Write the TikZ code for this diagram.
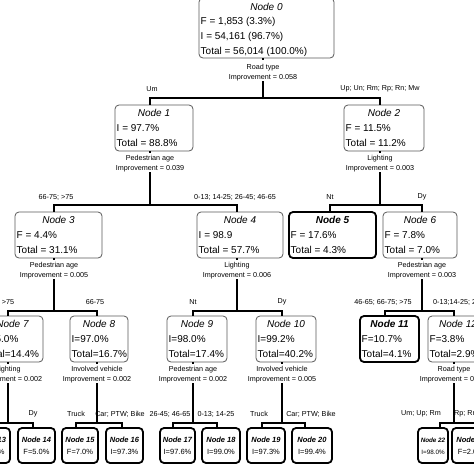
\documentclass[tikz,border=0pt]{standalone}
\usepackage{fontspec}
\setmainfont{Liberation Sans}
\tikzset{
  nbox/.style={draw=black!65, line width=0.8pt, rounded corners=4pt, anchor=north west, minimum height=46pt, inner sep=0pt, outer sep=0pt},
  tbox/.style={nbox, draw=black, line width=1.8pt},
  bbox/.style={tbox, minimum height=35pt},
  txt/.style={anchor=west, inner sep=0pt, font=\fontsize{10}{12}\selectfont},
  ttlnbox/.style={inner sep=0pt, font=\fontsize{10}{12}\selectfont\itshape},
  ttltbox/.style={inner sep=0pt, font=\fontsize{10}{12}\selectfont\bfseries\itshape},
  btxt/.style={inner sep=0pt, font=\fontsize{7.5}{9}\selectfont},
  bttl/.style={inner sep=0pt, font=\fontsize{7.5}{9}\selectfont\bfseries\itshape},
  slbl/.style={anchor=north, align=center, inner sep=0pt, font=\fontsize{7.2}{10}\selectfont},
  elbl/.style={inner sep=0pt, font=\fontsize{7.2}{9}\selectfont},
  conn/.style={line width=1.2pt, black},
}
\newcommand\mainbox[8]{%
  \node[#2, minimum width=#5pt] (#1) at (#3,#4) {};
  \node[ttl#2] at ([yshift=-8pt]#1.north) {#6};
  \node[txt] at ([xshift=1.5pt,yshift=-23pt]#1.north west) {#7};
  \node[txt] at ([xshift=1.5pt,yshift=-38pt]#1.north west) {#8};
}
\newcommand\leaf[5]{%
  \node[bbox, minimum width=#3pt] (#1) at (#2,428) {};
  \node[bttl] at ([yshift=-12pt]#1.north) {#4};
  \node[btxt] at ([yshift=-24pt]#1.north) {#5};
}
\newcommand\spl[5]{%
  \coordinate (x#1) at (#2,0);
  \draw[conn] (#1.south -| x#1) -- ++(0,2);
  \node[slbl, yshift=-4pt] (s#1) at (#1.south -| x#1) {#3\\#4};
  \coordinate (h#1) at (#2,#5);
  \draw[conn] (s#1.south) -- (h#1);
}
\newcommand\kids[6]{%
  \coordinate (ha#1) at (#4,#2);
  \coordinate (hb#1) at (#6,#2);
  \draw[conn, line cap=rect] (ha#1) -- (hb#1);
  \draw[conn] (ha#1) -- (#3.north -| ha#1);
  \draw[conn] (hb#1) -- (#5.north -| hb#1);
}
\begin{document}
\begin{tikzpicture}[x=1pt, y=-1pt]
\useasboundingbox (0,0) rectangle (474,474);
\fill[white] (0,0) rectangle (474,474);
\clip (0,0) rectangle (474,474);

% root
\node[nbox, minimum width=135pt, minimum height=60pt] (n0) at (199,-2) {};
\node[ttlnbox] at ([yshift=-9pt]n0.north) {Node 0};
\node[txt] at ([xshift=1.5pt,yshift=-24pt]n0.north west) {F = 1,853 (3.3\%)};
\node[txt] at ([xshift=1.5pt,yshift=-39pt]n0.north west) {I = 54,161 (96.7\%)};
\node[txt] at ([xshift=1.5pt,yshift=-54pt]n0.north west) {Total = 56,014 (100.0\%)};

% level 1
\mainbox{n1}{nbox}{115}{105}{78}{Node 1}{I = 97.7\%}{Total = 88.8\%}
\mainbox{n2}{nbox}{344}{105}{80}{Node 2}{F = 11.5\%}{Total = 11.2\%}

% level 2
\mainbox{n3}{nbox}{15}{212}{87}{Node 3}{F = 4.4\%}{Total = 31.1\%}
\mainbox{n4}{nbox}{197}{212}{86}{Node 4}{I = 98.9}{Total = 57.7\%}
\mainbox{n5}{tbox}{289}{212}{87}{Node 5}{F = 17.6\%}{Total = 4.3\%}
\mainbox{n6}{nbox}{383}{212}{74}{Node 6}{F = 7.8\%}{Total = 7.0\%}

% level 3
\mainbox{n7}{nbox}{-18}{316}{61}{Node 7}{F=5.0\%}{Total=14.4\%}
\mainbox{n8}{nbox}{70}{316}{58}{Node 8}{I=97.0\%}{Total=16.7\%}
\mainbox{n9}{nbox}{167}{316}{60}{Node 9}{I=98.0\%}{Total=17.4\%}
\mainbox{n10}{nbox}{256}{316}{60}{Node 10}{I=99.2\%}{Total=40.2\%}
\mainbox{n11}{tbox}{360}{316}{59}{Node 11}{F=10.7\%}{Total=4.1\%}
\mainbox{n12}{nbox}{428}{316}{60}{Node 12}{F=3.8\%}{Total=2.9\%}

% leaves
\leaf{n13}{-27}{37}{Node 13}{F=3.1\%}
\leaf{n14}{18}{37}{Node 14}{F=5.0\%}
\leaf{n15}{62}{36}{Node 15}{F=7.0\%}
\leaf{n16}{106}{37}{Node 16}{I=97.3\%}
\leaf{n17}{160}{35}{Node 17}{I=97.6\%}
\leaf{n18}{202}{38}{Node 18}{I=99.0\%}
\leaf{n19}{247}{38}{Node 19}{I=97.3\%}
\leaf{n20}{292}{40}{Node 20}{I=99.4\%}
\node[bbox, minimum width=30pt] (n22) at (418,428) {};
\node[bttl, font=\fontsize{6.3}{8}\selectfont\bfseries\itshape] at ([yshift=-12pt]n22.north) {Node 22};
\node[btxt, font=\fontsize{6.3}{8}\selectfont] at ([yshift=-24pt]n22.north) {I=98.0\%};
\leaf{n23}{452}{38}{Node 23}{F=2.0\%}

% splits
\node[slbl, yshift=-6pt] (sn0) at (n0.south -| 263,0) {Road type\\Improvement = 0.058};
\draw[conn] (n0.south -| sn0) -- ++(0,2);
\coordinate (hn0) at (263,98);
\draw[conn] (sn0.south) -- (hn0);
\kids{n0}{98}{n1}{150}{n2}{380}

\spl{n1}{150}{Pedestrian age}{Improvement = 0.039}{205}
\kids{n1}{205}{n3}{54}{n4}{237}
\spl{n2}{380}{Lighting}{Improvement = 0.003}{205}
\kids{n2}{205}{n5}{330}{n6}{422}

\spl{n3}{54}{Pedestrian age}{Improvement = 0.005}{311}
\kids{n3}{311}{n7}{8}{n8}{97}
\spl{n4}{237}{Lighting}{Improvement = 0.006}{311}
\kids{n4}{311}{n9}{193}{n10}{282}
\spl{n6}{422}{Pedestrian age}{Improvement = 0.003}{311}
\kids{n6}{311}{n11}{385}{n12}{454}

\spl{n7}{8}{Lighting}{Improvement = 0.002}{423}
\kids{n7}{423}{n13}{-14}{n14}{33}
\spl{n8}{97}{Involved vehicle}{Improvement = 0.002}{423}
\kids{n8}{423}{n15}{76}{n16}{122}
\spl{n9}{193}{Pedestrian age}{Improvement = 0.002}{423}
\kids{n9}{423}{n17}{173}{n18}{217}
\spl{n10}{282}{Involved vehicle}{Improvement = 0.005}{423}
\kids{n10}{423}{n19}{262}{n20}{305}
\spl{n12}{454}{Road type}{Improvement = 0.002}{423}
\kids{n12}{423}{n22}{440}{n23}{480}

% edge labels
\node[elbl] at (152,89) {Um};
\node[elbl] at (380,89) {Up; Un; Rm; Rp; Rn; Mw};
\node[elbl] at (56,197) {66-75; >75};
\node[elbl] at (235,197) {0-13; 14-25; 26-45; 46-65};
\node[elbl] at (330,197) {Nt};
\node[elbl] at (422,197) {Dy};
\node[elbl] at (8,302) {>75};
\node[elbl] at (95,302) {66-75};
\node[elbl] at (193,302) {Nt};
\node[elbl] at (282,302) {Dy};
\node[elbl] at (383,302) {46-65; 66-75; >75};
\node[elbl, anchor=west] at (433,302) {0-13;14-25; 26-45};
\node[elbl] at (33,414) {Dy};
\node[elbl] at (76,414) {Truck};
\node[elbl] at (120,414) {Car; PTW; Bike};
\node[elbl] at (170,414) {26-45; 46-65};
\node[elbl] at (216,414) {0-13; 14-25};
\node[elbl] at (259,414) {Truck};
\node[elbl] at (311,414) {Car; PTW; Bike};
\node[elbl] at (421,414) {Um; Up; Rm};
\node[elbl, anchor=west] at (454,414) {Rp; Rn; Mw};
\end{tikzpicture}
\end{document}
